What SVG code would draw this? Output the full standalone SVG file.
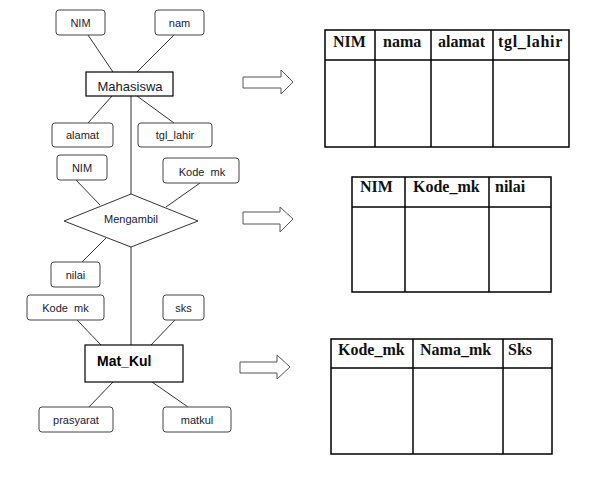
<svg xmlns="http://www.w3.org/2000/svg" width="596" height="481" viewBox="0 0 596 481">
<style>
.attr{fill:#fff;stroke:#444;stroke-width:1}
.ent{fill:#fff;stroke:#000;stroke-width:1.2}
.t{font-family:"Liberation Sans",Arial,sans-serif;font-size:11px;fill:#1a1a2e;text-anchor:middle}
.te{font-family:"Liberation Sans",Arial,sans-serif;font-size:13px;fill:#1a1a2e;text-anchor:middle}
.tb{font-family:"Liberation Sans",Arial,sans-serif;font-size:14px;font-weight:bold;fill:#000}
.ln{stroke:#333;stroke-width:1;fill:none}
.tbl{fill:#fff;stroke:#000;stroke-width:1.5}
.tl{stroke:#000;stroke-width:1.5}
.th{font-family:"Liberation Serif","Times New Roman",serif;font-size:16px;font-weight:bold;fill:#111}
.arr{fill:#fff;stroke:#555;stroke-width:1}
</style>
<rect width="596" height="481" fill="#fff"/>
<g id="connectors">
<line class="ln" x1="131" y1="96" x2="131" y2="194"/>
<line class="ln" x1="131" y1="247" x2="131" y2="345"/>
<line class="ln" x1="88" y1="35" x2="113" y2="72"/>
<line class="ln" x1="174" y1="35" x2="137" y2="72"/>
<line class="ln" x1="112" y1="96" x2="88" y2="123"/>
<line class="ln" x1="137" y1="96" x2="174" y2="123"/>
<line class="ln" x1="76" y1="180" x2="100" y2="205"/>
<line class="ln" x1="200" y1="183" x2="166" y2="207"/>
<line class="ln" x1="106" y1="238" x2="82" y2="262"/>
<line class="ln" x1="77" y1="320" x2="101" y2="345"/>
<line class="ln" x1="175" y1="320" x2="151" y2="345"/>
<line class="ln" x1="113" y1="382" x2="89" y2="407"/>
<line class="ln" x1="152" y1="382" x2="188" y2="407"/>
</g>
<g id="attr-nim1"><rect class="attr" x="56" y="10" width="49" height="25" rx="3"/><text class="t" x="80.5" y="27">NIM</text></g>
<g id="attr-nam"><rect class="attr" x="155" y="10" width="49" height="25" rx="3"/><text class="t" x="179.5" y="27">nam</text></g>
<g id="mahasiswa"><rect class="ent" x="86" y="72" width="87" height="24"/><text class="te" x="130" y="91">Mahasiswa</text></g>
<g id="attr-alamat"><rect class="attr" x="52" y="123" width="61" height="24" rx="3"/><text class="t" x="82.5" y="139">alamat</text></g>
<g id="attr-tgl"><rect class="attr" x="138" y="123" width="74" height="24" rx="3"/><text class="t" x="175" y="139">tgl_lahir</text></g>
<g id="attr-nim2"><rect class="attr" x="57" y="155" width="50" height="25" rx="3"/><text class="t" x="82" y="172">NIM</text></g>
<g id="attr-kode1"><rect class="attr" x="163" y="158" width="76" height="25" rx="3"/><text class="t" x="202" y="176" style="white-space:pre">Kode  mk</text></g>
<g id="mengambil"><polygon class="ent" points="64,221 131,194 198,221 131,247" style="stroke:#333;stroke-width:1"/><text class="t" x="131" y="223">Mengambil</text></g>
<g id="attr-nilai"><rect class="attr" x="51" y="262" width="49" height="25" rx="3"/><text class="t" x="75.5" y="279">nilai</text></g>
<g id="attr-kode2"><rect class="attr" x="27" y="295" width="77" height="25" rx="3"/><text class="t" x="65.5" y="312" style="white-space:pre">Kode  mk</text></g>
<g id="attr-sks"><rect class="attr" x="163" y="295" width="41" height="25" rx="3"/><text class="t" x="183.5" y="312">sks</text></g>
<g id="matkul-entity"><rect class="ent" x="85" y="345" width="98" height="37"/><text class="tb" x="97" y="366">Mat_Kul</text></g>
<g id="attr-prasyarat"><rect class="attr" x="39" y="407" width="74" height="25" rx="3"/><text class="t" x="76" y="424">prasyarat</text></g>
<g id="attr-matkul"><rect class="attr" x="163" y="407" width="68" height="25" rx="3"/><text class="t" x="197" y="424">matkul</text></g>
<g id="arrow1"><polygon class="arr" points="243,77 281,77 281,70 293,82 281,94 281,88 243,88"/></g>
<g id="arrow2"><polygon class="arr" points="243,212 280,212 280,207 293,219 280,232 280,224 243,224"/></g>
<g id="arrow3"><polygon class="arr" points="240,362 277,362 277,355 290,367 277,379 277,373 240,373"/></g>
<g id="table1">
<rect class="tbl" x="325" y="30" width="244" height="117"/>
<line class="tl" x1="325" y1="60" x2="569" y2="60"/>
<line class="tl" x1="375" y1="30" x2="375" y2="147"/>
<line class="tl" x1="431" y1="30" x2="431" y2="147"/>
<line class="tl" x1="493" y1="30" x2="493" y2="147"/>
<text class="th" x="333" y="47">NIM</text>
<text class="th" x="383" y="47">nama</text>
<text class="th" x="438" y="47">alamat</text>
<text class="th" x="498" y="47" style="letter-spacing:0.7px">tgl_lahir</text>
</g>
<g id="table2">
<rect class="tbl" x="352" y="177" width="199" height="115"/>
<line class="tl" x1="352" y1="207" x2="551" y2="207"/>
<line class="tl" x1="405" y1="177" x2="405" y2="292"/>
<line class="tl" x1="489" y1="177" x2="489" y2="292"/>
<text class="th" x="360" y="192">NIM</text>
<text class="th" x="413" y="192">Kode_mk</text>
<text class="th" x="495" y="192">nilai</text>
</g>
<g id="table3">
<rect class="tbl" x="331" y="339" width="221" height="115"/>
<line class="tl" x1="331" y1="368" x2="552" y2="368"/>
<line class="tl" x1="413" y1="339" x2="413" y2="454"/>
<line class="tl" x1="503" y1="339" x2="503" y2="454"/>
<text class="th" x="338" y="355">Kode_mk</text>
<text class="th" x="420" y="355">Nama_mk</text>
<text class="th" x="508" y="355">Sks</text>
</g>
</svg>
